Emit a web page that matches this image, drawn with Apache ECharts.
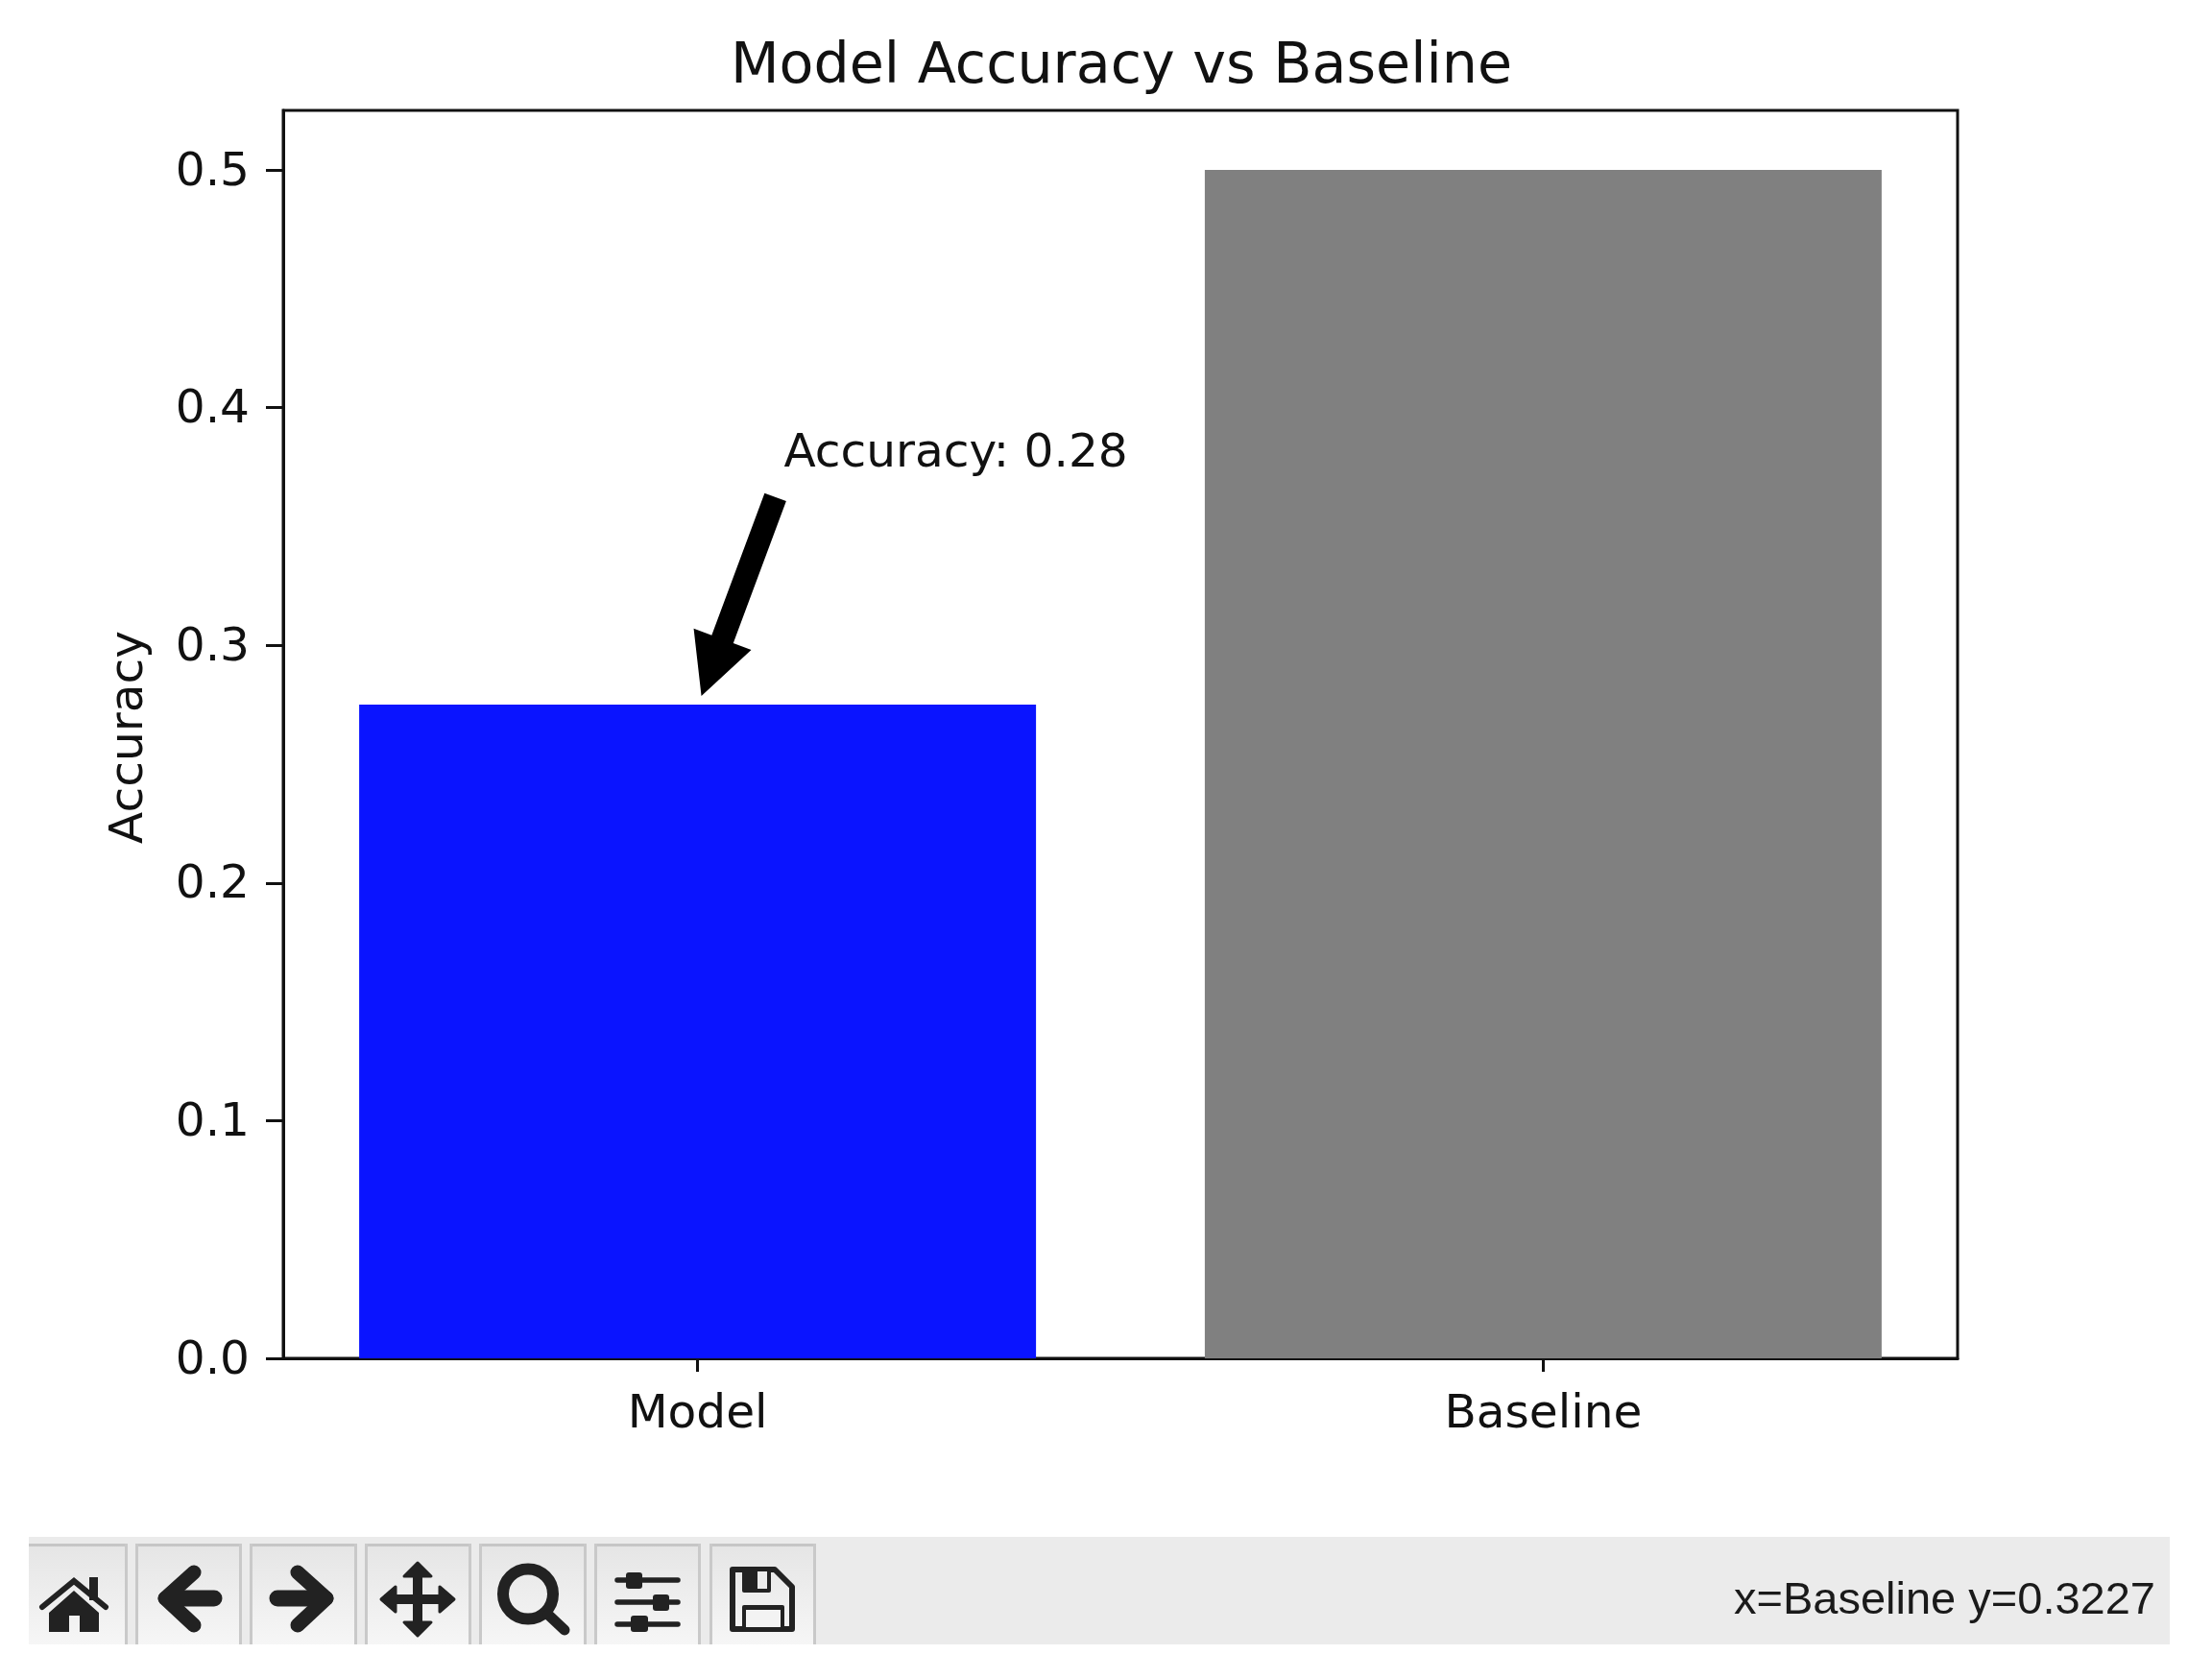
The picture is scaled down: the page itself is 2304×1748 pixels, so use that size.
<!DOCTYPE html>
<html>
<head>
<meta charset="utf-8">
<style>html,body{margin:0;padding:0;background:#fff}#c{width:2304px;height:1748px}</style>
<script src="https://cdn.jsdelivr.net/npm/echarts@6/dist/echarts.min.js"></script>
</head>
<body>
<div id="c"></div>
<script>
const chartTitle = 'Model Accuracy vs Baseline';
const yAxisTitle = 'Accuracy';
const categories = ['Model', 'Baseline'];
const categoryPositions = [0, 1];
const accuracyValues = [0.275, 0.5];
const barColors = ['#0A14FF', '#808080'];
const yTicks = [0, 0.1, 0.2, 0.3, 0.4, 0.5];
const annotationLabel = 'Accuracy: 0.28';
const annotationTextAt = [0.102, 0.3704];
const annotationArrowTip = [0.0045, 0.2787];
const annotationArrowTail = [0.092, 0.3623];
const statusText = 'x=Baseline y=0.3227';

const FONT = '"DejaVu Sans"';
const INK = '#111';
const TICK_FONT = 48.6;

function arrowItem(params, api) {
  const tip = api.coord(annotationArrowTip);
  const tail = api.coord(annotationArrowTail);
  const text = api.coord(annotationTextAt);
  const dx = tail[0] - tip[0], dy = tail[1] - tip[1];
  const len = Math.hypot(dx, dy), ux = dx / len, uy = dy / len, px = -uy, py = ux;
  const shaft = 12, head = 32, headLen = 63;
  const bx = tip[0] + ux * headLen, by = tip[1] + uy * headLen;
  return {
    type: 'group',
    children: [
      {
        type: 'polygon',
        shape: { points: [
          tip,
          [bx + px * head, by + py * head],
          [bx + px * shaft, by + py * shaft],
          [tail[0] + px * shaft, tail[1] + py * shaft],
          [tail[0] - px * shaft, tail[1] - py * shaft],
          [bx - px * shaft, by - py * shaft],
          [bx - px * head, by - py * head]
        ] },
        style: { fill: '#000' }
      },
      {
        type: 'text',
        style: {
          x: text[0], y: text[1], text: annotationLabel,
          font: TICK_FONT + 'px ' + FONT, fill: INK, textAlign: 'left', textVerticalAlign: 'bottom'
        }
      }
    ]
  };
}

/* Toolbar chrome (figure window furniture, not data) */
const DARK = '#222';
function btn(x0, x1) {
  return [
    { type: 'rect', shape: { x: x0, y: 1608, width: x1 - x0, height: 105 },
      style: { fill: new echarts.graphic.LinearGradient(0, 0, 0, 1, [{ offset: 0, color: '#E5E5E5' }, { offset: 1, color: '#F6F6F6' }]) } },
    { type: 'rect', shape: { x: x0, y: 1608, width: x1 - x0, height: 3 }, style: { fill: '#C6C6C6' } },
    { type: 'rect', shape: { x: x1 - 3, y: 1608, width: 3, height: 105 }, style: { fill: '#C9C9C9' } },
    { type: 'rect', shape: { x: x0, y: 1608, width: x0 > 30 ? 3 : 0, height: 105 }, style: { fill: '#C9C9C9' } }
  ];
}
const rounded = { stroke: DARK, lineWidth: 3, lineJoin: 'round' };
const poly = (pts, extra) => ({ type: 'polygon', shape: { points: pts }, style: Object.assign({ fill: DARK }, extra) });
const line = (x1, y1, x2, y2, w) => ({ type: 'line', shape: { x1, y1, x2, y2 }, style: { stroke: DARK, lineWidth: w, lineCap: 'round' } });
const rect = (x, y, width, height, r, fill) => ({ type: 'rect', shape: { x, y, width, height, r: r || 0 }, style: { fill: fill || DARK } });

const toolbar = [
  rect(30, 1601, 2230, 112, 0, '#EBEBEB'),
  ...btn(30, 133), ...btn(141, 252), ...btn(260, 372), ...btn(380, 491), ...btn(499, 611), ...btn(619, 730), ...btn(739, 850),
  // home
  rect(93, 1643, 9, 24),
  { type: 'polyline', shape: { points: [[44, 1674], [77, 1647], [110, 1674]] }, style: { stroke: DARK, lineWidth: 6, lineCap: 'round', fill: 'none' } },
  poly([[51, 1680], [77, 1657], [103, 1680], [103, 1700], [83, 1700], [83, 1683], [72, 1683], [72, 1700], [51, 1700]]),
  // back
  line(172, 1665, 202, 1638, 15), line(172, 1665, 202, 1693, 15), line(176, 1665, 223, 1665, 17),
  // forward
  line(340, 1665, 310, 1638, 15), line(340, 1665, 310, 1693, 15), line(336, 1665, 289, 1665, 17),
  // move
  rect(400, 1661, 70, 10), rect(430, 1636, 10, 60),
  poly([[435, 1628], [449, 1642], [421, 1642]], rounded), poly([[435, 1704], [449, 1690], [421, 1690]], rounded),
  poly([[397, 1666], [412, 1653], [412, 1679]], rounded), poly([[473, 1666], [458, 1653], [458, 1679]], rounded),
  // zoom
  { type: 'circle', shape: { cx: 550, cy: 1660.5, r: 26 }, style: { fill: 'none', stroke: DARK, lineWidth: 12 } },
  line(571, 1682, 588, 1698, 11),
  // sliders
  line(643, 1646, 706, 1646, 5.5), line(643, 1669, 706, 1669, 5.5), line(643, 1692, 706, 1692, 5.5),
  rect(652, 1638, 17, 17, 3), rect(680, 1661, 17, 17, 3), rect(657, 1683, 18, 17, 3),
  // save
  { type: 'polygon', shape: { points: [[763, 1635], [807, 1635], [825, 1653], [825, 1697], [763, 1697]] }, style: { fill: 'none', stroke: DARK, lineWidth: 6, lineJoin: 'round' } },
  rect(773, 1632, 30, 27, 2),
  rect(789, 1637, 10, 18, 0, '#ECECEC'),
  rect(773, 1672, 44, 27, 2),
  rect(777, 1677, 36, 18, 0, '#F3F3F3'),
  // readout
  { type: 'text', style: { x: 2245, y: 1668, text: statusText, font: '47px "Liberation Sans"', fill: '#1a1a1a', textAlign: 'right', textVerticalAlign: 'middle' } }
];

const chart = echarts.init(document.getElementById('c'), null, { renderer: 'canvas' });
chart.setOption({
  animation: false,
  backgroundColor: '#fff',
  title: {
    text: chartTitle, left: 1163, top: 66, textAlign: 'center', textVerticalAlign: 'middle',
    textStyle: { fontFamily: FONT, fontSize: 58.7, fontWeight: 'normal', color: INK }
  },
  grid: { left: 295, right: 265, top: 115, bottom: 333, show: true, borderColor: '#111', borderWidth: 3, backgroundColor: '#fff' },
  xAxis: {
    type: 'value', min: -0.49, max: 1.49, splitLine: { show: false },
    axisLine: { show: true, onZero: false, lineStyle: { color: '#111', width: 3 } },
    axisTick: { show: true, customValues: categoryPositions, length: 14, lineStyle: { color: '#111', width: 3 } },
    axisLabel: {
      customValues: categoryPositions, margin: 35, fontFamily: FONT, fontSize: TICK_FONT, color: INK,
      formatter: v => categories[categoryPositions.indexOf(Math.round(v))]
    }
  },
  yAxis: {
    type: 'value', min: 0, max: 0.525, splitLine: { show: false },
    name: yAxisTitle, nameLocation: 'middle', nameGap: 135, nameRotate: 90,
    nameTextStyle: { fontFamily: FONT, fontSize: TICK_FONT, color: INK, padding: [0, 6, 0, 0] },
    axisLine: { show: true, onZero: false, lineStyle: { color: '#111', width: 3 } },
    axisTick: { show: true, customValues: yTicks, length: 18, lineStyle: { color: '#111', width: 3 } },
    axisLabel: {
      customValues: yTicks, margin: 35, fontFamily: FONT, fontSize: TICK_FONT, color: INK,
      formatter: v => '{n|' + v.toFixed(1) + '}',
      rich: { n: { fontFamily: FONT, fontSize: TICK_FONT, color: INK, padding: [6, 0, 0, 0] } }
    }
  },
  series: [
    {
      type: 'bar', barWidth: 705, z: 1, clip: false,
      data: categoryPositions.map((x, i) => ({ value: [x, accuracyValues[i]], itemStyle: { color: barColors[i] } }))
    },
    {
      type: 'custom', z: 5, clip: false, silent: true,
      data: [annotationArrowTip], renderItem: arrowItem,
      encode: { x: 0, y: 1 }
    }
  ],
  graphic: { elements: toolbar }
});
</script>
</body>
</html>
